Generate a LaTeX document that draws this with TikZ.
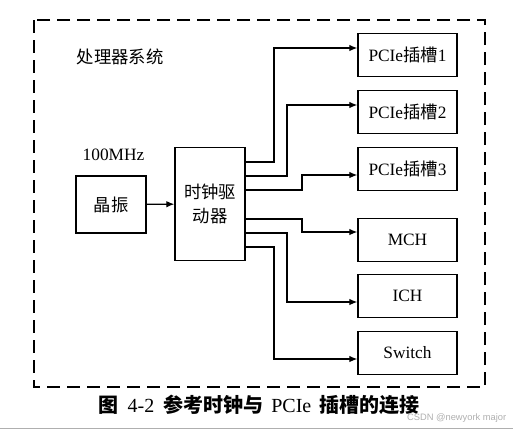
\documentclass[tikz,border=0pt]{standalone}
\usepackage{fontspec}
\setmainfont{Liberation Serif}
\newfontfamily\cjk{Noto Sans CJK SC}
\newfontfamily\wmfont{Liberation Sans}
\usetikzlibrary{arrows.meta}
\definecolor{wmgray}{RGB}{175,175,175}

\begin{document}
\begin{tikzpicture}[x=0.75pt,y=-0.75pt,
	lbl/.style={font=\fontsize{13}{15}\selectfont},
	blk/.style={draw,line width=1.1pt,inner sep=0pt,font=\fontsize{13}{15}\selectfont},
	slot/.style={blk,minimum width=74.25pt,minimum height=32.25pt},
	conn/.style={line width=0.9pt,-{Latex[length=6pt,width=5pt]}}]
	\useasboundingbox (0,0) rectangle (513,429);

	% System border
	\draw[line width=1.3pt,dash pattern=on 10pt off 5pt] (34,20) rectangle (485,387);
	\node[lbl,anchor=west] (sys) at (72,57) {\cjk 处理器系统};

	% Crystal and clock driver
	\node[lbl,anchor=west] (freq) at (78,155) {100MHz};
	\node[blk,minimum width=52.5pt,minimum height=42.75pt] (xtal) at (111,204.5) {\cjk 晶振};
	\node[blk,minimum width=52.5pt,minimum height=84.75pt,align=center,
		font=\fontsize{13}{18}\selectfont] (drv) at (210,204) {\cjk 时钟驱\\\cjk 动器};
	\draw[conn] (xtal) -- (drv);

	% Clock receivers
	\node[slot] (p1) at (407.5,55) {PCIe{\cjk 插槽}1};
	\node[slot] (p2) at (407.5,112) {PCIe{\cjk 插槽}2};
	\node[slot] (p3) at (407.5,169) {PCIe{\cjk 插槽}3};
	\node[slot] (mch) at (407.5,240) {MCH};
	\node[slot] (ich) at (407.5,296) {ICH};
	\node[slot] (sw) at (407.5,353) {Switch};

	% Driver outputs, bend columns and arrow ends
	\coordinate (o1) at ([yshift=31.5pt]drv.east);
	\coordinate (o2) at ([yshift=21pt]drv.east);
	\coordinate (o3) at ([yshift=10.5pt]drv.east);
	\coordinate (o4) at ([yshift=-11.25pt]drv.east);
	\coordinate (o5) at ([yshift=-21.75pt]drv.east);
	\coordinate (o6) at ([yshift=-32.25pt]drv.east);
	\coordinate (xa) at (274,0);
	\coordinate (xb) at (287,0);
	\coordinate (xc) at (302,0);
	\coordinate (i1) at ([yshift=5.25pt]p1.west);
	\coordinate (i2) at ([yshift=5.25pt]p2.west);
	\coordinate (i3) at ([yshift=-4.5pt]p3.west);
	\coordinate (i4) at ([yshift=6pt]mch.west);
	\coordinate (i5) at ([yshift=-4.5pt]ich.west);
	\coordinate (i6) at ([yshift=-4.5pt]sw.west);

	\draw[conn] (o1) -| (xa |- i1) -- (i1);
	\draw[conn] (o2) -| (xb |- i2) -- (i2);
	\draw[conn] (o3) -| (xc |- i3) -- (i3);
	\draw[conn] (o4) -| (xc |- i4) -- (i4);
	\draw[conn] (o5) -| (xb |- i5) -- (i5);
	\draw[conn] (o6) -| (xa |- i6) -- (i6);

	% Caption
	\node[font=\fontsize{15}{17}\selectfont] (cap) at (259,405)
		{{\cjk\bfseries 图}\hspace{0.45em}4-2\hspace{0.45em}{\cjk\bfseries 参考时钟与}\hspace{0.4em}PCIe\hspace{0.4em}{\cjk\bfseries 插槽的连接}};
	\node[anchor=east,text=wmgray,font=\wmfont\fontsize{7}{8}\selectfont] (wm) at (511,418) {CSDN @newyork major};
	\draw[wmgray,line width=0.8pt] (0,428.5) -- (513,428.5);
\end{tikzpicture}
\end{document}
